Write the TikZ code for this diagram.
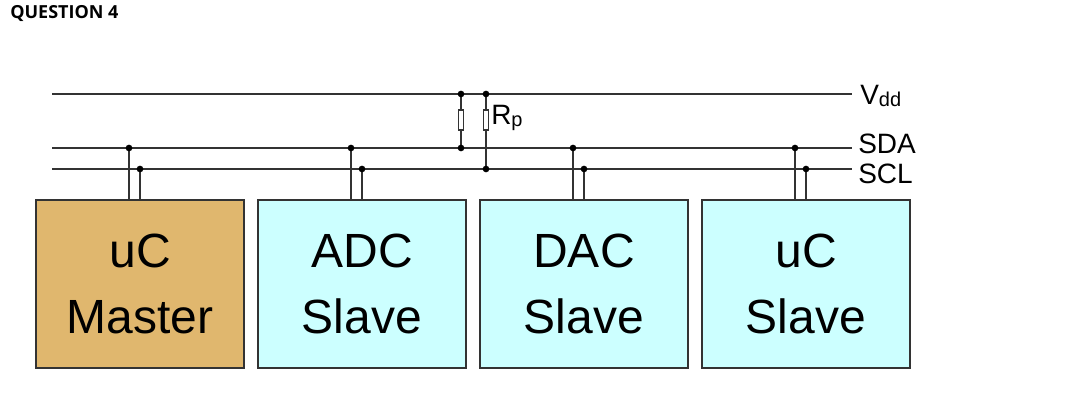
\documentclass[tikz,border=0pt]{standalone}
\usepackage{fontspec}
\setmainfont{Liberation Sans}
\newfontfamily\titlefont{Open Sans}
\begin{document}
\begin{tikzpicture}[x=0.75pt,y=-0.75pt,
  bus/.style={line width=1.7pt,draw=black!80},
  tap/.style={line width=1.3pt,draw=black!80},
  dotc/.style={circle,fill=black,inner sep=0pt,minimum size=5pt},
  dev/.style={draw=black!80,line width=1.8pt,minimum width=156pt,minimum height=126pt,align=center,font=\fontsize{36}{50}\selectfont,inner sep=0pt},
  lab/.style={anchor=west,inner sep=0pt,font=\fontsize{21}{21}\selectfont},
  res/.style={draw=black!80,line width=1pt,fill=white,minimum width=4pt,minimum height=15pt,inner sep=0pt}]
\useasboundingbox (0,0) rectangle (1072,402);
\node[anchor=west,inner sep=0pt,font=\titlefont\bfseries\fontsize{13.5}{13.5}\selectfont] (t) at (10,14) {QUESTION 4};
\coordinate (v0) at (52,94); \coordinate (v1) at (852,94);
\coordinate (d0) at (52,148); \coordinate (d1) at (852,148);
\coordinate (c0) at (52,169); \coordinate (c1) at (852,169);
\draw[bus] (v0) -- (v1); \draw[bus] (d0) -- (d1); \draw[bus] (c0) -- (c1);
\node[lab] (lv) at (860,96) {V\raisebox{-2pt}{\fontsize{15}{15}\selectfont dd}};
\node[lab] (ld) at (858,144) {SDA};
\node[lab] (lc) at (858,174) {SCL};
% devices
\node[dev,fill={rgb,255:red,224;green,183;blue,110}] (m) at (140,284) {uC\\Master};
\node[dev,fill={rgb,255:red,204;green,255;blue,255}] (a) at (362,284) {ADC\\Slave};
\node[dev,fill={rgb,255:red,204;green,255;blue,255}] (d) at (584,284) {DAC\\Slave};
\node[dev,fill={rgb,255:red,204;green,255;blue,255}] (u) at (806,284) {uC\\Slave};
\foreach \n/\x in {m/129,a/351,d/573,u/795}{
  \coordinate (s\n) at (\x,148);
  \coordinate (k\n) at (\x+11,169);
  \draw[tap] (s\n) -- (\x,200);
  \draw[tap] (k\n) -- (\x+11,200);
  \node[dotc] at (s\n) {}; \node[dotc] at (k\n) {};
}
% pull-ups
\coordinate (r1t) at (461,94); \coordinate (r1b) at (461,148);
\coordinate (r2t) at (486,94); \coordinate (r2b) at (486,169);
\draw[tap] (r1t) -- (r1b); \draw[tap] (r2t) -- (r2b);
\node[res] (r1) at (461,120) {}; \node[res] (r2) at (486,120) {};
\foreach \p in {r1t,r1b,r2t,r2b} \node[dotc] at (\p) {};
\node[lab] (rp) at (491,118) {R\raisebox{-2pt}{\fontsize{15}{15}\selectfont p}};
\end{tikzpicture}
\end{document}
